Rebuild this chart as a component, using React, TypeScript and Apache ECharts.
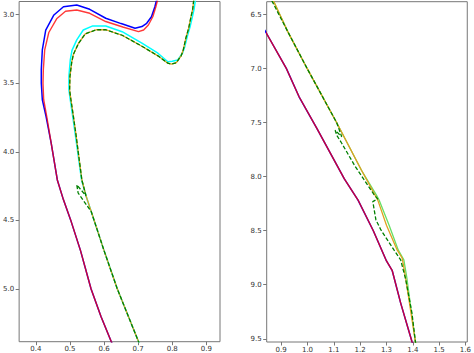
import React, { useEffect, useRef } from "react";
import * as echarts from "echarts";

// ---- Left panel data ([x, y]) ----
const leftBlue: number[][] = [
  [0.757, 2.85], [0.754, 2.893], [0.749, 2.942], [0.739, 3.015], [0.725, 3.063], [0.711, 3.087],
  [0.691, 3.099], [0.65, 3.065], [0.605, 3.026], [0.558, 2.961], [0.52, 2.929], [0.481, 2.942],
  [0.453, 3.002], [0.429, 3.112], [0.419, 3.257], [0.416, 3.4], [0.416, 3.5], [0.419, 3.62],
  [0.43, 3.743], [0.445, 3.937], [0.463, 4.205], [0.481, 4.35], [0.502, 4.496], [0.531, 4.72],
  [0.562, 5.0], [0.591, 5.2], [0.621, 5.383], [0.631, 5.44],
];
const leftRed: number[][] = [
  [0.76, 2.85], [0.757, 2.893], [0.752, 2.942], [0.743, 3.015], [0.73, 3.075], [0.716, 3.112],
  [0.701, 3.124], [0.655, 3.09], [0.605, 3.05], [0.558, 2.99], [0.52, 2.966], [0.487, 2.975],
  [0.461, 3.03], [0.438, 3.13], [0.426, 3.257], [0.422, 3.4], [0.421, 3.5], [0.423, 3.62],
  [0.432, 3.743], [0.445, 3.937], [0.463, 4.205], [0.481, 4.35], [0.502, 4.496], [0.531, 4.72],
  [0.562, 5.0], [0.591, 5.2], [0.621, 5.383], [0.631, 5.44],
];
const leftCyan: number[][] = [
  [0.87, 2.85], [0.868, 2.893], [0.864, 2.96], [0.859, 3.015], [0.852, 3.09], [0.844, 3.16],
  [0.836, 3.24], [0.83, 3.281], [0.816, 3.33], [0.8, 3.34], [0.787, 3.343], [0.758, 3.281],
  [0.711, 3.208], [0.653, 3.124], [0.605, 3.082], [0.567, 3.082], [0.539, 3.112], [0.52, 3.184],
  [0.506, 3.26], [0.501, 3.33], [0.497, 3.45], [0.497, 3.549], [0.501, 3.622], [0.508, 3.74],
  [0.515, 3.862], [0.534, 4.205], [0.548, 4.327], [0.5625, 4.436], [0.6, 4.72], [0.639, 5.0],
  [0.701, 5.383], [0.71, 5.44],
];
const leftOrange: number[][] = [
  [0.866, 2.85], [0.863, 2.893], [0.86, 2.96], [0.855, 3.015], [0.848, 3.1], [0.84, 3.17],
  [0.832, 3.26], [0.826, 3.3], [0.812, 3.35], [0.797, 3.36], [0.787, 3.354], [0.758, 3.3],
  [0.711, 3.23], [0.653, 3.15], [0.605, 3.11], [0.577, 3.11], [0.545, 3.14], [0.525, 3.21],
  [0.51, 3.29], [0.505, 3.35], [0.5, 3.45], [0.499, 3.549], [0.503, 3.622], [0.51, 3.74],
  [0.517, 3.862], [0.535, 4.205], [0.547, 4.32], [0.5625, 4.436], [0.6, 4.72], [0.639, 5.0],
  [0.701, 5.383], [0.71, 5.44],
];
const leftGreen: number[][] = [
  [0.866, 2.85], [0.863, 2.893], [0.86, 2.96], [0.855, 3.015], [0.848, 3.1], [0.84, 3.17],
  [0.832, 3.26], [0.826, 3.3], [0.812, 3.35], [0.797, 3.36], [0.787, 3.354], [0.758, 3.3],
  [0.711, 3.23], [0.653, 3.15], [0.605, 3.11], [0.577, 3.11], [0.545, 3.14], [0.525, 3.21],
  [0.51, 3.29], [0.505, 3.35], [0.5, 3.45], [0.499, 3.549], [0.503, 3.622], [0.51, 3.74],
  [0.517, 3.862], [0.535, 4.205], [0.547, 4.32], [0.52, 4.241], [0.524, 4.3], [0.5625, 4.436],
  [0.6, 4.72], [0.639, 5.0], [0.701, 5.383], [0.71, 5.44],
];

// ---- Right panel data ([x, y]) ----
const rightBlue: number[][] = [
  [0.82, 6.57], [0.844, 6.672], [0.92, 7.0], [0.968, 7.26], [1.035, 7.55], [1.14, 8.02],
  [1.192, 8.216], [1.25, 8.5], [1.3, 8.78], [1.322, 8.87], [1.354, 9.17], [1.397, 9.528],
  [1.41, 9.6],
];
const rightRed: number[][] = [
  [0.82, 6.57], [0.844, 6.672], [0.92, 7.0], [0.968, 7.26], [1.035, 7.55], [1.14, 8.02],
  [1.192, 8.216], [1.25, 8.5], [1.3, 8.78], [1.322, 8.87], [1.354, 9.17], [1.397, 9.528],
  [1.41, 9.6],
];
const rightLightGreen: number[][] = [
  [0.86, 6.32], [0.869, 6.364], [0.925, 6.657], [0.999, 7.0], [1.111, 7.5], [1.205, 7.94],
  [1.262, 8.17], [1.272, 8.215], [1.31, 8.45], [1.345, 8.68], [1.366, 8.77], [1.377, 8.93],
  [1.41, 9.528], [1.415, 9.6],
];
const rightOrange: number[][] = [
  [0.86, 6.32], [0.869, 6.364], [0.925, 6.657], [0.999, 7.0], [1.111, 7.5], [1.2045, 7.938],
  [1.267, 8.217], [1.3, 8.45], [1.341, 8.68], [1.36, 8.755], [1.372, 8.926], [1.41, 9.528],
  [1.415, 9.6],
];
const rightGreen: number[][] = [
  [0.855, 6.32], [0.863, 6.364], [0.925, 6.657], [0.999, 7.0], [1.111, 7.5], [1.13, 7.63],
  [1.105, 7.57], [1.112, 7.62], [1.13, 7.69], [1.18, 7.9], [1.254, 8.17], [1.267, 8.205],
  [1.248, 8.23], [1.26, 8.4], [1.279, 8.493], [1.329, 8.68], [1.354, 8.77], [1.373, 8.95],
  [1.397, 9.265], [1.41, 9.528], [1.415, 9.6],
];

// ---- Tick values ----
const leftXTicks = [0.4, 0.5, 0.6, 0.7, 0.8, 0.9];
const leftYTicks = [3.0, 3.5, 4.0, 4.5, 5.0];
const rightXTicks = [0.9, 1.0, 1.1, 1.2, 1.3, 1.4, 1.5, 1.6];
const rightYTicks = [6.5, 7.0, 7.5, 8.0, 8.5, 9.0, 9.5];

const FONT = "DejaVu Sans";
const LABEL_COLOR = "#333";
const SPINE = "#777";

function xAxis(gridIndex: number, min: number, max: number, ticks: number[]) {
  return {
    type: "value",
    gridIndex,
    min,
    max,
    splitLine: { show: false },
    axisLine: { show: false, onZero: false },
    axisTick: { show: true, length: 3.5, customValues: ticks, lineStyle: { color: SPINE, width: 1 } },
    axisLabel: {
      customValues: ticks,
      formatter: (v: number) => v.toFixed(1),
      fontSize: 7,
      fontFamily: FONT,
      color: LABEL_COLOR,
      margin: 4,
    },
  };
}

function yAxis(gridIndex: number, min: number, max: number, ticks: number[]) {
  return {
    type: "value",
    gridIndex,
    inverse: true,
    min,
    max,
    splitLine: { show: false },
    axisLine: { show: false, onZero: false },
    axisTick: { show: true, length: 3.5, customValues: ticks, lineStyle: { color: SPINE, width: 1 } },
    axisLabel: {
      customValues: ticks,
      formatter: (v: number) => v.toFixed(1),
      fontSize: 7,
      fontFamily: FONT,
      color: LABEL_COLOR,
      margin: 5,
    },
  };
}

function line(data: number[][], idx: number, color: string, width: number, dashed = false, opacity = 1) {
  return {
    type: "line",
    xAxisIndex: idx,
    yAxisIndex: idx,
    data,
    showSymbol: false,
    symbol: "none",
    smooth: false,
    clip: true,
    lineStyle: dashed
      ? { color, width, type: [4, 2], opacity }
      : { color, width, opacity },
  };
}

export default function App() {
  const ref = useRef<HTMLDivElement>(null);
  useEffect(() => {
    if (!ref.current) return;
    const chart = echarts.init(ref.current, undefined, { renderer: "svg" });
    chart.setOption({
      animation: false,
      backgroundColor: "#fff",
      grid: [
        { left: 14.5, top: 1.5, width: 205.5, height: 340.2, show: true, borderColor: SPINE, borderWidth: 1, backgroundColor: "transparent" },
        { left: 266.7, top: 1.7, width: 204.3, height: 340.3, show: true, borderColor: SPINE, borderWidth: 1, backgroundColor: "transparent" },
      ],
      xAxis: [xAxis(0, 0.351, 0.94, leftXTicks), xAxis(1, 0.845, 1.607, rightXTicks)],
      yAxis: [yAxis(0, 2.904, 5.384, leftYTicks), yAxis(1, 6.38, 9.53, rightYTicks)],
      series: [
        line(leftBlue, 0, "#0000ff", 1.5),
        line(leftRed, 0, "#ff0000", 1.4, false, 0.78),
        line(leftCyan, 0, "#00ffff", 1.5),
        line(leftOrange, 0, "#e0a020", 1.3),
        line(leftGreen, 0, "#008000", 1.3, true),
        line(rightBlue, 1, "#0000ff", 1.5),
        line(rightRed, 1, "#ff0000", 1.4, false, 0.78),
        line(rightLightGreen, 1, "#66e066", 1.3),
        line(rightOrange, 1, "#e0a020", 1.3),
        line(rightGreen, 1, "#008000", 1.3, true),
      ],
    });
    return () => chart.dispose();
  }, []);
  return (
    <div
      ref={ref}
      style={{ position: "fixed", left: 0, top: 0, width: 474, height: 353, background: "#fff" }}
    />
  );
}
